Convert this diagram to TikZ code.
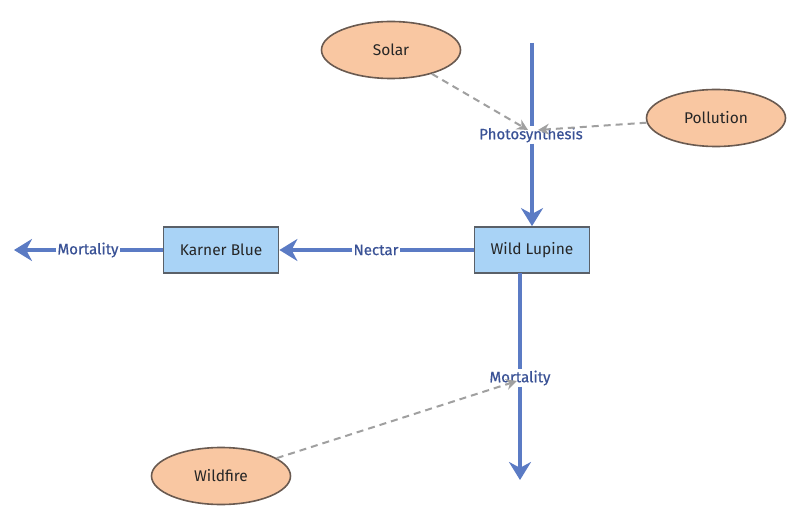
\documentclass[tikz,border=0pt]{standalone}
\usepackage{fontspec}
\setmainfont{Fira Sans}
\usetikzlibrary{shapes.geometric,arrows.meta}
\definecolor{flowblue}{HTML}{5B7BC4}
\definecolor{labblue}{HTML}{3A5296}
\definecolor{boxfill}{HTML}{A9D3F6}
\definecolor{boxdraw}{HTML}{5A6068}
\definecolor{ovfill}{HTML}{F9C7A2}
\definecolor{ovdraw}{HTML}{6A5A50}
\definecolor{dashgray}{HTML}{A0A0A0}
\tikzset{
  stock/.style={draw=boxdraw, line width=1.8pt, fill=boxfill, minimum width=115pt, minimum height=46pt, font=\fontsize{15.5}{18}\selectfont, text=black!85},
  aux/.style={ellipse, draw=ovdraw, line width=1.6pt, fill=ovfill, minimum width=139pt, minimum height=57pt, inner sep=0pt, font=\fontsize{15.5}{18}\selectfont, text=black!85},
  flow/.style={draw=flowblue, line width=4pt, -{Stealth[length=18pt,width=22pt]}},
  flowline/.style={draw=flowblue, line width=4pt},
  flowlab/.style={fill=white, inner sep=1pt, text=labblue, font=\fontsize{15}{17}\selectfont\addfontfeatures{FakeBold=0.6}},
  link/.style={draw=dashgray, line width=2pt, dash pattern=on 7pt off 5pt, -{Stealth[length=11pt,width=11pt]}}
}
\begin{document}
\begin{tikzpicture}[x=1pt,y=-1pt]
\useasboundingbox[fill=white] (0,0) rectangle (800,524);
\node[stock] (lupine) at (532,250) {Wild Lupine};
\node[stock] (karner) at (221,250) {Karner Blue};
\node[aux] (solar) at (391,50) {Solar};
\node[aux] (pollution) at (716,118) {Pollution};
\node[aux] (wildfire) at (221,476) {Wildfire};
\coordinate (src) at (532,43);
\coordinate (sinkA) at (14,250);
\coordinate (sinkB) at (520,480);
\coordinate (lupbot) at (520,273);
\node[flowlab] (photo) at (531,135) {Photosynthesis};
\node[flowlab] (nectar) at (376,250) {Nectar};
\node[flowlab] (mortA) at (88,250) {Mortality};
\node[flowlab] (mortB) at (520,378) {Mortality};
\draw[flowline] (src) -- (photo.north -| src);
\draw[flow] (photo.south -| src) -- (lupine.north);
\draw[flowline] (lupine.west) -- (nectar.east);
\draw[flow] (nectar.west) -- (karner.east);
\draw[flowline] (karner.west) -- (mortA.east);
\draw[flow] (mortA.west) -- (sinkA);
\draw[flowline] (lupbot) -- (mortB.north -| lupbot);
\draw[flow] (mortB.south -| lupbot) -- (sinkB);
\coordinate (pin1) at (528,130);
\coordinate (pin2) at (538,130);
\coordinate (pin3) at (517,381);
\draw[link] (solar) -- (pin1);
\draw[link] (pollution) -- (pin2);
\draw[link] (wildfire) -- (pin3);
\end{tikzpicture}
\end{document}
